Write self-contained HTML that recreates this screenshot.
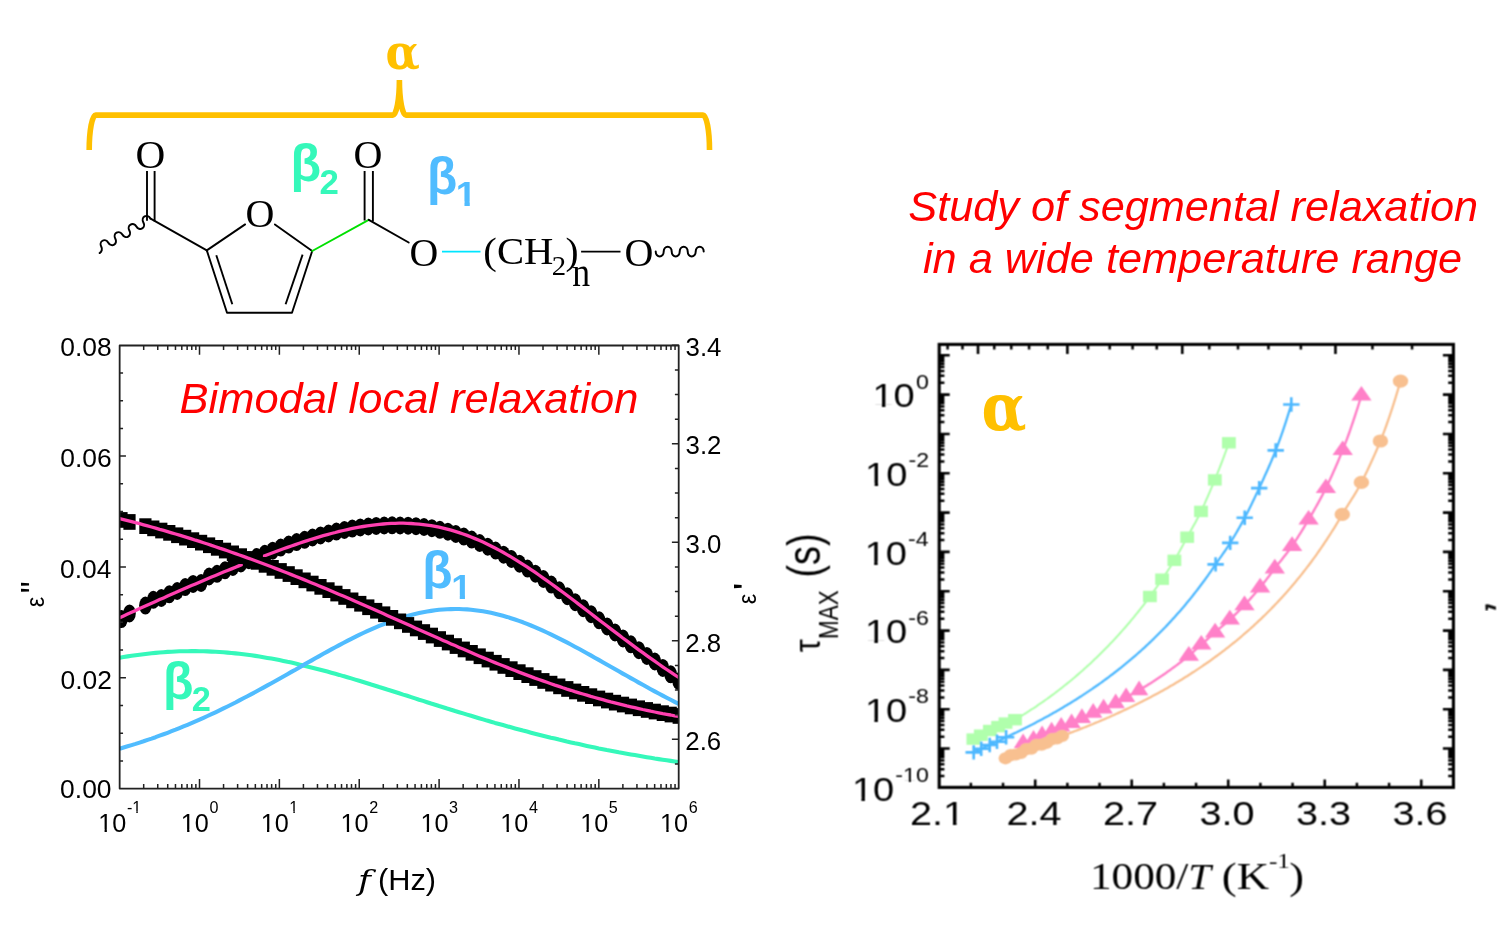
<!DOCTYPE html>
<html><head><meta charset="utf-8"><title>Figure</title>
<style>html,body{margin:0;padding:0;background:#fff}svg{display:block}</style></head>
<body><svg width="1502" height="931" viewBox="0 0 1502 931">
<rect width="1502" height="931" fill="#fff"/>
<path d="M89.2,150 A6.5,35 0 0 1 95.7,115.1 L392.9,115.1 A6.5,35 0 0 0 399.4,80 A6.5,35 0 0 0 405.9,115.1 L703,115.1 A6.5,35 0 0 1 709.5,150" fill="none" stroke="#FFC000" stroke-width="5.6" stroke-linejoin="miter"/>
<text transform="translate(385.61,69.27) scale(0.9189,1)" font-family='"DejaVu Serif", serif' font-size="48.62" font-style="normal" font-weight="bold" fill="#FFC000" >α</text>
<line x1="147" y1="171" x2="147" y2="220.7" stroke="#000" stroke-width="1.9" stroke-linecap="butt"/>
<line x1="154.6" y1="171" x2="154.6" y2="221.5" stroke="#000" stroke-width="1.9" stroke-linecap="butt"/>
<line x1="150.6" y1="218.7" x2="206.8" y2="250.4" stroke="#000" stroke-width="1.9" stroke-linecap="round"/>
<path transform="translate(150.4,218.4) rotate(150)" d="M0,0 a4.050,4.600 0 0 0 8.100,0 a4.050,4.600 0 0 1 8.100,0 a4.050,4.600 0 0 0 8.100,0 a4.050,4.600 0 0 1 8.100,0 a4.050,4.600 0 0 0 8.100,0 a4.050,4.600 0 0 1 8.100,0 a4.050,4.600 0 0 0 8.100,0 a4.6,4.6 0 0 1 4.6,-4.6" fill="none" stroke="#000" stroke-width="2" stroke-linecap="round"/>
<line x1="206.8" y1="250.4" x2="245.1" y2="224.4" stroke="#000" stroke-width="1.9" stroke-linecap="round"/>
<line x1="274.9" y1="224.4" x2="312.2" y2="251" stroke="#000" stroke-width="1.9" stroke-linecap="round"/>
<polyline points="206.8,250.4 227,312.8 292,312.8 312.2,251" fill="none" stroke="#000" stroke-width="1.9" stroke-linejoin="round" stroke-linecap="round"/>
<line x1="216.3" y1="255.3" x2="232.3" y2="304.3" stroke="#000" stroke-width="1.9" stroke-linecap="butt"/>
<line x1="285.6" y1="304.3" x2="302.6" y2="254.6" stroke="#000" stroke-width="1.9" stroke-linecap="butt"/>
<line x1="312.2" y1="251" x2="368.7" y2="219.8" stroke="#00e000" stroke-width="1.9" stroke-linecap="round"/>
<line x1="364.6" y1="171" x2="364.6" y2="220.5" stroke="#000" stroke-width="1.9" stroke-linecap="butt"/>
<line x1="372.9" y1="171" x2="372.9" y2="221.5" stroke="#000" stroke-width="1.9" stroke-linecap="butt"/>
<line x1="368.8" y1="219.8" x2="408.7" y2="242.5" stroke="#000" stroke-width="1.9" stroke-linecap="round"/>
<line x1="442" y1="251.6" x2="480.5" y2="251.6" stroke="#00e5ff" stroke-width="1.8" stroke-linecap="butt"/>
<line x1="581.1" y1="251.6" x2="620.5" y2="251.6" stroke="#000" stroke-width="1.9" stroke-linecap="butt"/>
<path d="M655.7,251.6 a4,4.8 0 0 0 8,0 a4,4.8 0 0 1 8,0 a4,4.8 0 0 0 8,0 a4,4.8 0 0 1 8,0 a4,4.8 0 0 0 8,0 a4,4.8 0 0 1 8,0" fill="none" stroke="#000" stroke-width="2" stroke-linecap="round"/>
<text transform="translate(135.45,168.19) scale(1.0124,1)" font-family='"Liberation Serif", serif' font-size="40.75" font-style="normal" font-weight="normal" fill="#000" >O</text>
<text transform="translate(245.6,227.2) scale(0.9889,1)" font-family='"Liberation Serif", serif' font-size="40.45" font-style="normal" font-weight="normal" fill="#000" >O</text>
<text transform="translate(353.6,168.19) scale(0.9817,1)" font-family='"Liberation Serif", serif' font-size="40.75" font-style="normal" font-weight="normal" fill="#000" >O</text>
<text transform="translate(409.51,265.5) scale(0.9851,1)" font-family='"Liberation Serif", serif' font-size="40.45" font-style="normal" font-weight="normal" fill="#000" >O</text>
<text transform="translate(624.6,265.5) scale(0.9889,1)" font-family='"Liberation Serif", serif' font-size="40.45" font-style="normal" font-weight="normal" fill="#000" >O</text>
<text transform="translate(483.37,264.24) scale(1.0852,1)" font-family='"Liberation Serif", serif' font-size="37.47" font-style="normal" font-weight="normal" fill="#000" >(CH</text>
<text transform="translate(551.71,275.1) scale(1.0483,1)" font-family='"Liberation Serif", serif' font-size="27.42" font-style="normal" font-weight="normal" fill="#000" >2</text>
<text transform="translate(565.42,264.24) scale(1.0469,1)" font-family='"Liberation Serif", serif' font-size="37.47" font-style="normal" font-weight="normal" fill="#000" >)</text>
<text transform="translate(572.29,286.1) scale(0.9069,1)" font-family='"Liberation Serif", serif' font-size="39.36" font-style="normal" font-weight="normal" fill="#000" >n</text>
<text transform="translate(290.49,181.45) scale(0.9698,1)" font-family='"Liberation Sans", sans-serif' font-size="51.66" font-style="normal" font-weight="bold" fill="#35f8ba" >β</text>
<text transform="translate(427.03,193.97) scale(0.9603,1)" font-family='"Liberation Sans", sans-serif' font-size="51.55" font-style="normal" font-weight="bold" fill="#50bcff" >β</text>
<text transform="translate(422.13,587.98) scale(0.9524,1)" font-family='"Liberation Sans", sans-serif' font-size="51.98" font-style="normal" font-weight="bold" fill="#50bcff" >β</text>
<text transform="translate(163.01,698.91) scale(0.9620,1)" font-family='"Liberation Sans", sans-serif' font-size="51.87" font-style="normal" font-weight="bold" fill="#35f8ba" >β</text>
<text transform="translate(319.38,193.6) scale(0.9860,1)" font-family='"Liberation Sans", sans-serif' font-size="35.29" font-style="normal" font-weight="bold" fill="#35f8ba" >2</text>
<text transform="translate(191.7,710.9) scale(0.9625,1)" font-family='"Liberation Sans", sans-serif' font-size="35.71" font-style="normal" font-weight="bold" fill="#35f8ba" >2</text>
<clipPath id="k1"><path d="M-5,-35.78 H35.78 V-4.47 H13.31 V2 H8.23 V-4.47 H-5 Z"/></clipPath>
<text transform="translate(455.86,205.9) scale(1.0457,1)" clip-path="url(#k1)" font-family='"Liberation Sans", sans-serif' font-size="35.78" font-weight="bold" fill="#50bcff">1</text>
<clipPath id="k2"><path d="M-5,-35.49 H35.49 V-4.44 H13.2 V2 H8.16 V-4.44 H-5 Z"/></clipPath>
<text transform="translate(451.3,599.4) scale(1.0356,1)" clip-path="url(#k2)" font-family='"Liberation Sans", sans-serif' font-size="35.49" font-weight="bold" fill="#50bcff">1</text>
<clipPath id="c1"><rect x="119.65" y="345.3" width="559.0500000000001" height="443.3"/></clipPath>
<g clip-path="url(#c1)">
<polyline points="119.7,657.7 123.6,657.0 127.6,656.4 131.6,655.8 135.6,655.2 139.6,654.7 143.6,654.2 147.6,653.7 151.6,653.3 155.6,652.9 159.6,652.5 163.6,652.2 167.6,651.9 171.6,651.7 175.6,651.5 179.5,651.3 183.5,651.2 187.5,651.2 191.5,651.1 195.5,651.1 199.5,651.2 203.5,651.3 207.5,651.4 211.5,651.6 215.5,651.8 219.5,652.0 223.5,652.3 227.5,652.6 231.5,653.0 235.5,653.4 239.4,653.8 243.4,654.3 247.4,654.8 251.4,655.3 255.4,655.9 259.4,656.5 263.4,657.2 267.4,657.9 271.4,658.6 275.4,659.3 279.4,660.1 283.4,660.9 287.4,661.8 291.4,662.6 295.4,663.5 299.3,664.5 303.3,665.4 307.3,666.4 311.3,667.4 315.3,668.4 319.3,669.4 323.3,670.5 327.3,671.6 331.3,672.7 335.3,673.8 339.3,674.9 343.3,676.1 347.3,677.2 351.3,678.4 355.2,679.6 359.2,680.8 363.2,682.0 367.2,683.2 371.2,684.5 375.2,685.7 379.2,687.0 383.2,688.2 387.2,689.5 391.2,690.7 395.2,692.0 399.2,693.3 403.2,694.6 407.2,695.8 411.2,697.1 415.1,698.4 419.1,699.7 423.1,700.9 427.1,702.2 431.1,703.5 435.1,704.7 439.1,706.0 443.1,707.2 447.1,708.5 451.1,709.7 455.1,711.0 459.1,712.2 463.1,713.4 467.1,714.6 471.1,715.8 475.0,717.0 479.0,718.2 483.0,719.4 487.0,720.6 491.0,721.7 495.0,722.9 499.0,724.0 503.0,725.1 507.0,726.2 511.0,727.3 515.0,728.4 519.0,729.5 523.0,730.6 527.0,731.6 531.0,732.7 534.9,733.7 538.9,734.7 542.9,735.7 546.9,736.7 550.9,737.7 554.9,738.6 558.9,739.6 562.9,740.5 566.9,741.5 570.9,742.4 574.9,743.3 578.9,744.1 582.9,745.0 586.9,745.9 590.8,746.7 594.8,747.5 598.8,748.4 602.8,749.2 606.8,750.0 610.8,750.7 614.8,751.5 618.8,752.3 622.8,753.0 626.8,753.7 630.8,754.4 634.8,755.1 638.8,755.8 642.8,756.5 646.8,757.2 650.7,757.8 654.7,758.5 658.7,759.1 662.7,759.7 666.7,760.3 670.7,760.9 674.7,761.5 678.7,762.1" fill="none" stroke="#35f8ba" stroke-width="4.1" stroke-linejoin="round" />
<polyline points="119.7,748.7 123.6,747.5 127.6,746.3 131.6,745.1 135.6,743.9 139.6,742.6 143.6,741.3 147.6,739.9 151.6,738.6 155.6,737.2 159.6,735.7 163.6,734.3 167.6,732.8 171.6,731.2 175.6,729.7 179.5,728.1 183.5,726.4 187.5,724.8 191.5,723.1 195.5,721.4 199.5,719.6 203.5,717.8 207.5,716.0 211.5,714.2 215.5,712.3 219.5,710.4 223.5,708.4 227.5,706.5 231.5,704.5 235.5,702.5 239.4,700.4 243.4,698.3 247.4,696.2 251.4,694.1 255.4,692.0 259.4,689.8 263.4,687.6 267.4,685.4 271.4,683.2 275.4,681.0 279.4,678.7 283.4,676.5 287.4,674.2 291.4,671.9 295.4,669.7 299.3,667.4 303.3,665.1 307.3,662.8 311.3,660.6 315.3,658.3 319.3,656.1 323.3,653.8 327.3,651.6 331.3,649.4 335.3,647.3 339.3,645.1 343.3,643.0 347.3,640.9 351.3,638.9 355.2,636.9 359.2,634.9 363.2,633.0 367.2,631.2 371.2,629.4 375.2,627.6 379.2,625.9 383.2,624.3 387.2,622.8 391.2,621.3 395.2,619.9 399.2,618.5 403.2,617.3 407.2,616.1 411.2,615.0 415.1,614.0 419.1,613.1 423.1,612.2 427.1,611.5 431.1,610.9 435.1,610.3 439.1,609.8 443.1,609.5 447.1,609.2 451.1,609.1 455.1,609.0 459.1,609.0 463.1,609.2 467.1,609.4 471.1,609.7 475.0,610.2 479.0,610.7 483.0,611.3 487.0,612.0 491.0,612.8 495.0,613.7 499.0,614.7 503.0,615.8 507.0,616.9 511.0,618.2 515.0,619.5 519.0,620.9 523.0,622.3 527.0,623.9 531.0,625.5 534.9,627.1 538.9,628.9 542.9,630.7 546.9,632.5 550.9,634.4 554.9,636.3 558.9,638.3 562.9,640.4 566.9,642.4 570.9,644.5 574.9,646.7 578.9,648.8 582.9,651.0 586.9,653.2 590.8,655.4 594.8,657.7 598.8,659.9 602.8,662.2 606.8,664.5 610.8,666.7 614.8,669.0 618.8,671.3 622.8,673.6 626.8,675.8 630.8,678.1 634.8,680.3 638.8,682.6 642.8,684.8 646.8,687.0 650.7,689.2 654.7,691.4 658.7,693.5 662.7,695.6 666.7,697.7 670.7,699.8 674.7,701.9 678.7,703.9" fill="none" stroke="#50bcff" stroke-width="4.1" stroke-linejoin="round" />
<ellipse cx="121.5" cy="619.1" rx="6.3" ry="9.0" fill="#000"/>
<ellipse cx="129.5" cy="613.4" rx="6.3" ry="9.0" fill="#000"/>
<ellipse cx="145.4" cy="605.6" rx="6.3" ry="9.0" fill="#000"/>
<ellipse cx="153.3" cy="599.8" rx="6.3" ry="9.0" fill="#000"/>
<ellipse cx="161.3" cy="598.0" rx="6.3" ry="9.0" fill="#000"/>
<ellipse cx="169.3" cy="594.3" rx="6.3" ry="9.0" fill="#000"/>
<ellipse cx="177.2" cy="591.0" rx="6.3" ry="9.0" fill="#000"/>
<ellipse cx="185.2" cy="587.1" rx="6.3" ry="9.0" fill="#000"/>
<ellipse cx="193.1" cy="583.9" rx="6.3" ry="9.0" fill="#000"/>
<ellipse cx="201.1" cy="583.0" rx="6.3" ry="9.0" fill="#000"/>
<ellipse cx="209.1" cy="576.5" rx="6.3" ry="9.0" fill="#000"/>
<ellipse cx="217.0" cy="573.8" rx="6.3" ry="9.0" fill="#000"/>
<ellipse cx="225.0" cy="570.3" rx="6.3" ry="9.0" fill="#000"/>
<ellipse cx="232.9" cy="566.9" rx="6.3" ry="9.0" fill="#000"/>
<ellipse cx="240.9" cy="563.5" rx="6.3" ry="9.0" fill="#000"/>
<ellipse cx="248.9" cy="560.2" rx="6.3" ry="9.0" fill="#000"/>
<ellipse cx="256.8" cy="557.0" rx="6.3" ry="9.0" fill="#000"/>
<ellipse cx="264.8" cy="553.8" rx="6.3" ry="9.0" fill="#000"/>
<ellipse cx="272.7" cy="550.7" rx="6.3" ry="9.0" fill="#000"/>
<ellipse cx="280.7" cy="547.6" rx="6.3" ry="9.0" fill="#000"/>
<ellipse cx="288.7" cy="544.6" rx="6.3" ry="9.0" fill="#000"/>
<ellipse cx="296.6" cy="542.1" rx="6.3" ry="9.0" fill="#000"/>
<ellipse cx="304.6" cy="539.8" rx="6.3" ry="9.0" fill="#000"/>
<ellipse cx="312.5" cy="537.5" rx="6.3" ry="9.0" fill="#000"/>
<ellipse cx="320.5" cy="535.4" rx="6.3" ry="9.0" fill="#000"/>
<ellipse cx="328.5" cy="533.5" rx="6.3" ry="9.0" fill="#000"/>
<ellipse cx="336.4" cy="531.6" rx="6.3" ry="9.0" fill="#000"/>
<ellipse cx="344.4" cy="530.0" rx="6.3" ry="9.0" fill="#000"/>
<ellipse cx="352.3" cy="528.6" rx="6.3" ry="9.0" fill="#000"/>
<ellipse cx="360.3" cy="527.4" rx="6.3" ry="9.0" fill="#000"/>
<ellipse cx="368.3" cy="526.5" rx="6.3" ry="9.0" fill="#000"/>
<ellipse cx="376.2" cy="525.9" rx="6.3" ry="9.0" fill="#000"/>
<ellipse cx="384.2" cy="525.5" rx="6.3" ry="9.0" fill="#000"/>
<ellipse cx="392.1" cy="525.3" rx="6.3" ry="9.0" fill="#000"/>
<ellipse cx="400.1" cy="525.5" rx="6.3" ry="9.0" fill="#000"/>
<ellipse cx="408.1" cy="525.7" rx="6.3" ry="9.0" fill="#000"/>
<ellipse cx="416.0" cy="526.2" rx="6.3" ry="9.0" fill="#000"/>
<ellipse cx="424.0" cy="527.0" rx="6.3" ry="9.0" fill="#000"/>
<ellipse cx="431.9" cy="528.2" rx="6.3" ry="9.0" fill="#000"/>
<ellipse cx="439.9" cy="529.8" rx="6.3" ry="9.0" fill="#000"/>
<ellipse cx="447.9" cy="531.7" rx="6.3" ry="9.0" fill="#000"/>
<ellipse cx="455.8" cy="534.0" rx="6.3" ry="9.0" fill="#000"/>
<ellipse cx="463.8" cy="536.6" rx="6.3" ry="9.0" fill="#000"/>
<ellipse cx="471.7" cy="539.6" rx="6.3" ry="9.0" fill="#000"/>
<ellipse cx="479.7" cy="543.0" rx="6.3" ry="9.0" fill="#000"/>
<ellipse cx="487.7" cy="546.7" rx="6.3" ry="9.0" fill="#000"/>
<ellipse cx="495.6" cy="550.6" rx="6.3" ry="9.0" fill="#000"/>
<ellipse cx="503.6" cy="554.7" rx="6.3" ry="9.0" fill="#000"/>
<ellipse cx="511.5" cy="559.0" rx="6.3" ry="9.0" fill="#000"/>
<ellipse cx="519.5" cy="563.7" rx="6.3" ry="9.0" fill="#000"/>
<ellipse cx="527.5" cy="568.6" rx="6.3" ry="9.0" fill="#000"/>
<ellipse cx="535.4" cy="573.7" rx="6.3" ry="9.0" fill="#000"/>
<ellipse cx="543.4" cy="579.0" rx="6.3" ry="9.0" fill="#000"/>
<ellipse cx="551.3" cy="584.6" rx="6.3" ry="9.0" fill="#000"/>
<ellipse cx="559.3" cy="590.3" rx="6.3" ry="9.0" fill="#000"/>
<ellipse cx="567.3" cy="596.2" rx="6.3" ry="9.0" fill="#000"/>
<ellipse cx="575.2" cy="602.2" rx="6.3" ry="9.0" fill="#000"/>
<ellipse cx="583.2" cy="608.2" rx="6.3" ry="9.0" fill="#000"/>
<ellipse cx="591.1" cy="614.2" rx="6.3" ry="9.0" fill="#000"/>
<ellipse cx="599.1" cy="620.3" rx="6.3" ry="9.0" fill="#000"/>
<ellipse cx="607.1" cy="626.4" rx="6.3" ry="9.0" fill="#000"/>
<ellipse cx="615.0" cy="632.4" rx="6.3" ry="9.0" fill="#000"/>
<ellipse cx="623.0" cy="638.4" rx="6.3" ry="9.0" fill="#000"/>
<ellipse cx="630.9" cy="644.3" rx="6.3" ry="9.0" fill="#000"/>
<ellipse cx="638.9" cy="650.2" rx="6.3" ry="9.0" fill="#000"/>
<ellipse cx="646.9" cy="655.9" rx="6.3" ry="9.0" fill="#000"/>
<ellipse cx="654.8" cy="661.5" rx="6.3" ry="9.0" fill="#000"/>
<ellipse cx="662.8" cy="667.9" rx="6.3" ry="9.0" fill="#000"/>
<ellipse cx="670.7" cy="674.3" rx="6.3" ry="9.0" fill="#000"/>
<ellipse cx="678.7" cy="681.2" rx="6.3" ry="9.0" fill="#000"/>
<polyline points="119.7,617.8 123.6,615.9 127.6,614.1 131.6,612.3 135.6,610.4 139.6,608.6 143.6,606.8 147.6,605.0 151.6,603.2 155.6,601.4 159.6,599.6 163.6,597.9 167.6,596.1 171.6,594.3 175.6,592.6 179.5,590.8 183.5,589.1 187.5,587.3 191.5,585.6 195.5,583.9 199.5,582.2 203.5,580.5 207.5,578.8 211.5,577.1 215.5,575.5 219.5,573.8 223.5,572.1 227.5,570.5 231.5,568.9 235.5,567.2 239.4,565.6 243.4,564.0 247.4,562.4 251.4,560.9 255.4,559.3 259.4,557.7 263.4,556.2 267.4,554.7 271.4,553.2 275.4,551.7 279.4,550.2 283.4,548.8 287.4,547.4 291.4,546.0 295.4,544.6 299.3,543.2 303.3,541.9 307.3,540.6 311.3,539.3 315.3,538.1 319.3,536.9 323.3,535.7 327.3,534.6 331.3,533.5 335.3,532.5 339.3,531.4 343.3,530.5 347.3,529.6 351.3,528.7 355.2,527.9 359.2,527.2 363.2,526.5 367.2,525.8 371.2,525.3 375.2,524.8 379.2,524.3 383.2,524.0 387.2,523.7 391.2,523.4 395.2,523.3 399.2,523.2 403.2,523.2 407.2,523.3 411.2,523.5 415.1,523.8 419.1,524.1 423.1,524.6 427.1,525.1 431.1,525.7 435.1,526.4 439.1,527.2 443.1,528.1 447.1,529.1 451.1,530.2 455.1,531.4 459.1,532.6 463.1,534.0 467.1,535.4 471.1,537.0 475.0,538.6 479.0,540.3 483.0,542.1 487.0,544.0 491.0,546.0 495.0,548.0 499.0,550.1 503.0,552.3 507.0,554.6 511.0,556.9 515.0,559.3 519.0,561.8 523.0,564.3 527.0,566.9 531.0,569.6 534.9,572.2 538.9,575.0 542.9,577.8 546.9,580.6 550.9,583.5 554.9,586.4 558.9,589.3 562.9,592.3 566.9,595.3 570.9,598.3 574.9,601.3 578.9,604.4 582.9,607.4 586.9,610.5 590.8,613.5 594.8,616.6 598.8,619.7 602.8,622.8 606.8,625.8 610.8,628.9 614.8,631.9 618.8,634.9 622.8,638.0 626.8,640.9 630.8,643.9 634.8,646.9 638.8,649.8 642.8,652.7 646.8,655.6 650.7,658.4 654.7,661.2 658.7,664.0 662.7,666.8 666.7,669.5 670.7,672.2 674.7,674.8 678.7,677.4" fill="none" stroke="#ff40b0" stroke-width="3.3" stroke-linejoin="round" />
<rect x="115.4" y="512.1" width="12.2" height="15.7" fill="#000"/>
<rect x="123.4" y="514.1" width="12.2" height="15.7" fill="#000"/>
<rect x="139.3" y="518.3" width="12.2" height="15.7" fill="#000"/>
<rect x="147.2" y="520.5" width="12.2" height="15.7" fill="#000"/>
<rect x="155.2" y="522.7" width="12.2" height="15.7" fill="#000"/>
<rect x="163.2" y="525.0" width="12.2" height="15.7" fill="#000"/>
<rect x="171.1" y="527.4" width="12.2" height="15.7" fill="#000"/>
<rect x="179.1" y="529.8" width="12.2" height="15.7" fill="#000"/>
<rect x="187.0" y="532.3" width="12.2" height="15.7" fill="#000"/>
<rect x="195.0" y="534.8" width="12.2" height="15.7" fill="#000"/>
<rect x="203.0" y="537.4" width="12.2" height="15.7" fill="#000"/>
<rect x="210.9" y="540.0" width="12.2" height="15.7" fill="#000"/>
<rect x="218.9" y="542.7" width="12.2" height="15.7" fill="#000"/>
<rect x="226.8" y="545.5" width="12.2" height="15.7" fill="#000"/>
<rect x="234.8" y="548.3" width="12.2" height="15.7" fill="#000"/>
<rect x="242.8" y="551.1" width="12.2" height="15.7" fill="#000"/>
<rect x="250.7" y="554.0" width="12.2" height="15.7" fill="#000"/>
<rect x="258.7" y="557.0" width="12.2" height="15.7" fill="#000"/>
<rect x="266.6" y="560.0" width="12.2" height="15.7" fill="#000"/>
<rect x="274.6" y="563.1" width="12.2" height="15.7" fill="#000"/>
<rect x="282.6" y="566.2" width="12.2" height="15.7" fill="#000"/>
<rect x="290.5" y="569.3" width="12.2" height="15.7" fill="#000"/>
<rect x="298.5" y="572.5" width="12.2" height="15.7" fill="#000"/>
<rect x="306.4" y="575.7" width="12.2" height="15.7" fill="#000"/>
<rect x="314.4" y="579.0" width="12.2" height="15.7" fill="#000"/>
<rect x="322.4" y="582.3" width="12.2" height="15.7" fill="#000"/>
<rect x="330.3" y="585.7" width="12.2" height="15.7" fill="#000"/>
<rect x="338.3" y="589.1" width="12.2" height="15.7" fill="#000"/>
<rect x="346.2" y="592.5" width="12.2" height="15.7" fill="#000"/>
<rect x="354.2" y="595.9" width="12.2" height="15.7" fill="#000"/>
<rect x="362.2" y="599.4" width="12.2" height="15.7" fill="#000"/>
<rect x="370.1" y="602.9" width="12.2" height="15.7" fill="#000"/>
<rect x="378.1" y="606.4" width="12.2" height="15.7" fill="#000"/>
<rect x="386.0" y="610.0" width="12.2" height="15.7" fill="#000"/>
<rect x="394.0" y="613.5" width="12.2" height="15.7" fill="#000"/>
<rect x="402.0" y="617.1" width="12.2" height="15.7" fill="#000"/>
<rect x="409.9" y="620.6" width="12.2" height="15.7" fill="#000"/>
<rect x="417.9" y="624.2" width="12.2" height="15.7" fill="#000"/>
<rect x="425.8" y="627.7" width="12.2" height="15.7" fill="#000"/>
<rect x="433.8" y="631.2" width="12.2" height="15.7" fill="#000"/>
<rect x="441.8" y="634.7" width="12.2" height="15.7" fill="#000"/>
<rect x="449.7" y="638.2" width="12.2" height="15.7" fill="#000"/>
<rect x="457.7" y="641.6" width="12.2" height="15.7" fill="#000"/>
<rect x="465.6" y="645.0" width="12.2" height="15.7" fill="#000"/>
<rect x="473.6" y="648.4" width="12.2" height="15.7" fill="#000"/>
<rect x="481.6" y="651.7" width="12.2" height="15.7" fill="#000"/>
<rect x="489.5" y="654.9" width="12.2" height="15.7" fill="#000"/>
<rect x="497.5" y="658.1" width="12.2" height="15.7" fill="#000"/>
<rect x="505.4" y="661.3" width="12.2" height="15.7" fill="#000"/>
<rect x="513.4" y="664.3" width="12.2" height="15.7" fill="#000"/>
<rect x="521.4" y="667.3" width="12.2" height="15.7" fill="#000"/>
<rect x="529.3" y="670.2" width="12.2" height="15.7" fill="#000"/>
<rect x="537.3" y="673.1" width="12.2" height="15.7" fill="#000"/>
<rect x="545.2" y="675.8" width="12.2" height="15.7" fill="#000"/>
<rect x="553.2" y="678.5" width="12.2" height="15.7" fill="#000"/>
<rect x="561.2" y="681.1" width="12.2" height="15.7" fill="#000"/>
<rect x="569.1" y="683.6" width="12.2" height="15.7" fill="#000"/>
<rect x="577.1" y="686.0" width="12.2" height="15.7" fill="#000"/>
<rect x="585.0" y="688.3" width="12.2" height="15.7" fill="#000"/>
<rect x="593.0" y="690.6" width="12.2" height="15.7" fill="#000"/>
<rect x="601.0" y="692.7" width="12.2" height="15.7" fill="#000"/>
<rect x="608.9" y="694.8" width="12.2" height="15.7" fill="#000"/>
<rect x="616.9" y="696.7" width="12.2" height="15.7" fill="#000"/>
<rect x="624.8" y="698.6" width="12.2" height="15.7" fill="#000"/>
<rect x="632.8" y="700.4" width="12.2" height="15.7" fill="#000"/>
<rect x="640.8" y="702.1" width="12.2" height="15.7" fill="#000"/>
<rect x="648.7" y="703.7" width="12.2" height="15.7" fill="#000"/>
<rect x="656.7" y="705.3" width="12.2" height="15.7" fill="#000"/>
<rect x="664.6" y="706.7" width="12.2" height="15.7" fill="#000"/>
<rect x="672.6" y="708.1" width="12.2" height="15.7" fill="#000"/>
<polyline points="119.7,518.6 123.6,519.6 127.6,520.6 131.6,521.6 135.6,522.7 139.6,523.7 143.6,524.8 147.6,525.9 151.6,527.0 155.6,528.1 159.6,529.3 163.6,530.4 167.6,531.6 171.6,532.8 175.6,534.0 179.5,535.2 183.5,536.4 187.5,537.6 191.5,538.9 195.5,540.2 199.5,541.4 203.5,542.7 207.5,544.0 211.5,545.4 215.5,546.7 219.5,548.1 223.5,549.4 227.5,550.8 231.5,552.2 235.5,553.6 239.4,555.0 243.4,556.4 247.4,557.9 251.4,559.3 255.4,560.8 259.4,562.3 263.4,563.8 267.4,565.3 271.4,566.8 275.4,568.4 279.4,569.9 283.4,571.5 287.4,573.0 291.4,574.6 295.4,576.2 299.3,577.8 303.3,579.4 307.3,581.0 311.3,582.7 315.3,584.3 319.3,586.0 323.3,587.6 327.3,589.3 331.3,591.0 335.3,592.7 339.3,594.4 343.3,596.1 347.3,597.8 351.3,599.5 355.2,601.3 359.2,603.0 363.2,604.8 367.2,606.5 371.2,608.3 375.2,610.1 379.2,611.8 383.2,613.6 387.2,615.4 391.2,617.2 395.2,619.0 399.2,620.7 403.2,622.5 407.2,624.3 411.2,626.1 415.1,627.9 419.1,629.7 423.1,631.5 427.1,633.3 431.1,635.1 435.1,636.8 439.1,638.6 443.1,640.4 447.1,642.1 451.1,643.9 455.1,645.6 459.1,647.4 463.1,649.1 467.1,650.8 471.1,652.6 475.0,654.3 479.0,656.0 483.0,657.6 487.0,659.3 491.0,661.0 495.0,662.6 499.0,664.2 503.0,665.8 507.0,667.4 511.0,669.0 515.0,670.5 519.0,672.1 523.0,673.6 527.0,675.1 531.0,676.6 534.9,678.1 538.9,679.5 542.9,680.9 546.9,682.3 550.9,683.7 554.9,685.1 558.9,686.4 562.9,687.8 566.9,689.1 570.9,690.3 574.9,691.6 578.9,692.8 582.9,694.0 586.9,695.2 590.8,696.4 594.8,697.5 598.8,698.6 602.8,699.7 606.8,700.8 610.8,701.9 614.8,702.9 618.8,703.9 622.8,704.9 626.8,705.9 630.8,706.8 634.8,707.7 638.8,708.6 642.8,709.5 646.8,710.3 650.7,711.2 654.7,712.0 658.7,712.8 662.7,713.6 666.7,714.3 670.7,715.0 674.7,715.8 678.7,716.4" fill="none" stroke="#ff40b0" stroke-width="3.3" stroke-linejoin="round" />
</g>
<rect x="119.65" y="345.5" width="559.05" height="443.1" fill="none" stroke="#222" stroke-width="1.8" stroke-linejoin="round"/>
<path d="M143.69,788.60v-4.6 M143.69,345.30v4.6 M157.75,788.60v-4.6 M157.75,345.30v4.6 M167.73,788.60v-4.6 M167.73,345.30v4.6 M175.47,788.60v-4.6 M175.47,345.30v4.6 M181.80,788.60v-4.6 M181.80,345.30v4.6 M187.14,788.60v-4.6 M187.14,345.30v4.6 M191.77,788.60v-4.6 M191.77,345.30v4.6 M195.86,788.60v-4.6 M195.86,345.30v4.6 M199.51,788.60v-9.5 M199.51,345.30v9.5 M223.56,788.60v-4.6 M223.56,345.30v4.6 M237.62,788.60v-4.6 M237.62,345.30v4.6 M247.60,788.60v-4.6 M247.60,345.30v4.6 M255.34,788.60v-4.6 M255.34,345.30v4.6 M261.66,788.60v-4.6 M261.66,345.30v4.6 M267.01,788.60v-4.6 M267.01,345.30v4.6 M271.64,788.60v-4.6 M271.64,345.30v4.6 M275.72,788.60v-4.6 M275.72,345.30v4.6 M279.38,788.60v-9.5 M279.38,345.30v9.5 M303.42,788.60v-4.6 M303.42,345.30v4.6 M317.48,788.60v-4.6 M317.48,345.30v4.6 M327.46,788.60v-4.6 M327.46,345.30v4.6 M335.20,788.60v-4.6 M335.20,345.30v4.6 M341.53,788.60v-4.6 M341.53,345.30v4.6 M346.87,788.60v-4.6 M346.87,345.30v4.6 M351.50,788.60v-4.6 M351.50,345.30v4.6 M355.59,788.60v-4.6 M355.59,345.30v4.6 M359.24,788.60v-9.5 M359.24,345.30v9.5 M383.28,788.60v-4.6 M383.28,345.30v4.6 M397.35,788.60v-4.6 M397.35,345.30v4.6 M407.33,788.60v-4.6 M407.33,345.30v4.6 M415.07,788.60v-4.6 M415.07,345.30v4.6 M421.39,788.60v-4.6 M421.39,345.30v4.6 M426.74,788.60v-4.6 M426.74,345.30v4.6 M431.37,788.60v-4.6 M431.37,345.30v4.6 M435.45,788.60v-4.6 M435.45,345.30v4.6 M439.11,788.60v-9.5 M439.11,345.30v9.5 M463.15,788.60v-4.6 M463.15,345.30v4.6 M477.21,788.60v-4.6 M477.21,345.30v4.6 M487.19,788.60v-4.6 M487.19,345.30v4.6 M494.93,788.60v-4.6 M494.93,345.30v4.6 M501.25,788.60v-4.6 M501.25,345.30v4.6 M506.60,788.60v-4.6 M506.60,345.30v4.6 M511.23,788.60v-4.6 M511.23,345.30v4.6 M515.32,788.60v-4.6 M515.32,345.30v4.6 M518.97,788.60v-9.5 M518.97,345.30v9.5 M543.01,788.60v-4.6 M543.01,345.30v4.6 M557.08,788.60v-4.6 M557.08,345.30v4.6 M567.05,788.60v-4.6 M567.05,345.30v4.6 M574.79,788.60v-4.6 M574.79,345.30v4.6 M581.12,788.60v-4.6 M581.12,345.30v4.6 M586.46,788.60v-4.6 M586.46,345.30v4.6 M591.10,788.60v-4.6 M591.10,345.30v4.6 M595.18,788.60v-4.6 M595.18,345.30v4.6 M598.84,788.60v-9.5 M598.84,345.30v9.5 M622.88,788.60v-4.6 M622.88,345.30v4.6 M636.94,788.60v-4.6 M636.94,345.30v4.6 M646.92,788.60v-4.6 M646.92,345.30v4.6 M654.66,788.60v-4.6 M654.66,345.30v4.6 M660.98,788.60v-4.6 M660.98,345.30v4.6 M666.33,788.60v-4.6 M666.33,345.30v4.6 M670.96,788.60v-4.6 M670.96,345.30v4.6 M675.05,788.60v-4.6 M675.05,345.30v4.6 M119.65,760.89h3.4 M119.65,733.19h3.4 M119.65,705.48h3.4 M119.65,677.77h6.3 M119.65,650.07h3.4 M119.65,622.36h3.4 M119.65,594.66h3.4 M119.65,566.95h6.3 M119.65,539.24h3.4 M119.65,511.54h3.4 M119.65,483.83h3.4 M119.65,456.12h6.3 M119.65,428.42h3.4 M119.65,400.71h3.4 M119.65,373.01h3.4 M678.70,763.97h-3.8 M678.70,739.34h-6.8 M678.70,714.72h-3.8 M678.70,690.09h-3.8 M678.70,665.46h-3.8 M678.70,640.83h-6.8 M678.70,616.21h-3.8 M678.70,591.58h-3.8 M678.70,566.95h-3.8 M678.70,542.32h-6.8 M678.70,517.69h-3.8 M678.70,493.07h-3.8 M678.70,468.44h-3.8 M678.70,443.81h-6.8 M678.70,419.18h-3.8 M678.70,394.56h-3.8 M678.70,369.93h-3.8 M678.70,345.30h-6.8" stroke="#222" stroke-width="1.5" fill="none"/>
<text transform="translate(60.11,797.98) scale(1.0427,1)" text-anchor="start" font-family='"Liberation Sans", sans-serif' font-size="25.35" font-style="normal" font-weight="normal" fill="#000"  >0.00</text>
<text transform="translate(60.51,688.65) scale(1.0427,1)" text-anchor="start" font-family='"Liberation Sans", sans-serif' font-size="25.35" font-style="normal" font-weight="normal" fill="#000"  >0.02</text>
<text transform="translate(59.98,577.83) scale(1.0427,1)" text-anchor="start" font-family='"Liberation Sans", sans-serif' font-size="25.35" font-style="normal" font-weight="normal" fill="#000"  >0.04</text>
<text transform="translate(60.24,467) scale(1.0427,1)" text-anchor="start" font-family='"Liberation Sans", sans-serif' font-size="25.35" font-style="normal" font-weight="normal" fill="#000"  >0.06</text>
<text transform="translate(60.24,356.18) scale(1.0427,1)" text-anchor="start" font-family='"Liberation Sans", sans-serif' font-size="25.35" font-style="normal" font-weight="normal" fill="#000"  >0.08</text>
<text transform="translate(685.31,750.02) scale(0.9968,1)" text-anchor="start" font-family='"Liberation Sans", sans-serif' font-size="25.92" font-style="normal" font-weight="normal" fill="#000"  >2.6</text>
<text transform="translate(685.31,651.51) scale(0.9968,1)" text-anchor="start" font-family='"Liberation Sans", sans-serif' font-size="25.92" font-style="normal" font-weight="normal" fill="#000"  >2.8</text>
<text transform="translate(685.57,553) scale(0.9968,1)" text-anchor="start" font-family='"Liberation Sans", sans-serif' font-size="25.92" font-style="normal" font-weight="normal" fill="#000"  >3.0</text>
<text transform="translate(685.57,454.49) scale(0.9968,1)" text-anchor="start" font-family='"Liberation Sans", sans-serif' font-size="25.92" font-style="normal" font-weight="normal" fill="#000"  >3.2</text>
<text transform="translate(685.57,355.98) scale(0.9968,1)" text-anchor="start" font-family='"Liberation Sans", sans-serif' font-size="25.92" font-style="normal" font-weight="normal" fill="#000"  >3.4</text>
<clipPath id="q1"><path clip-rule="evenodd" d="M-25.35,-38.03H53.55V25.35H-25.35ZM0.76,-2.41H6.35V0.76H0.76ZM8.66,-2.41H13.82V0.76H8.66Z"/></clipPath>
<text transform="translate(98.26,831.9) scale(0.9940,1)" text-anchor="start" font-family='"Liberation Sans", sans-serif' font-size="25.35" font-style="normal" font-weight="normal" fill="#000"  clip-path="url(#q1)">10</text>
<clipPath id="q2"><path clip-rule="evenodd" d="M-16.23,-24.34H30.65V16.23H-16.23ZM5.89,-1.54H9.47V0.49H5.89ZM10.94,-1.54H14.25V0.49H10.94Z"/></clipPath>
<text transform="translate(126.89,812.6) scale(0.9940,1)" text-anchor="start" font-family='"Liberation Sans", sans-serif' font-size="16.23" font-style="normal" font-weight="normal" fill="#000"  clip-path="url(#q2)">-1</text>
<clipPath id="q3"><path clip-rule="evenodd" d="M-25.35,-38.03H53.55V25.35H-25.35ZM0.76,-2.41H6.35V0.76H0.76ZM8.66,-2.41H13.82V0.76H8.66Z"/></clipPath>
<text transform="translate(180.81,831.9) scale(0.9940,1)" text-anchor="start" font-family='"Liberation Sans", sans-serif' font-size="25.35" font-style="normal" font-weight="normal" fill="#000"  clip-path="url(#q3)">10</text>
<text transform="translate(209.44,812.6) scale(0.9940,1)" text-anchor="start" font-family='"Liberation Sans", sans-serif' font-size="16.23" font-style="normal" font-weight="normal" fill="#000"  >0</text>
<clipPath id="q4"><path clip-rule="evenodd" d="M-25.35,-38.03H53.55V25.35H-25.35ZM0.76,-2.41H6.35V0.76H0.76ZM8.66,-2.41H13.82V0.76H8.66Z"/></clipPath>
<text transform="translate(260.68,831.9) scale(0.9940,1)" text-anchor="start" font-family='"Liberation Sans", sans-serif' font-size="25.35" font-style="normal" font-weight="normal" fill="#000"  clip-path="url(#q4)">10</text>
<clipPath id="q5"><path clip-rule="evenodd" d="M-16.23,-24.34H25.25V16.23H-16.23ZM0.49,-1.54H4.06V0.49H0.49ZM5.54,-1.54H8.84V0.49H5.54Z"/></clipPath>
<text transform="translate(289.31,812.6) scale(0.9940,1)" text-anchor="start" font-family='"Liberation Sans", sans-serif' font-size="16.23" font-style="normal" font-weight="normal" fill="#000"  clip-path="url(#q5)">1</text>
<clipPath id="q6"><path clip-rule="evenodd" d="M-25.35,-38.03H53.55V25.35H-25.35ZM0.76,-2.41H6.35V0.76H0.76ZM8.66,-2.41H13.82V0.76H8.66Z"/></clipPath>
<text transform="translate(340.54,831.9) scale(0.9940,1)" text-anchor="start" font-family='"Liberation Sans", sans-serif' font-size="25.35" font-style="normal" font-weight="normal" fill="#000"  clip-path="url(#q6)">10</text>
<text transform="translate(369.17,812.6) scale(0.9940,1)" text-anchor="start" font-family='"Liberation Sans", sans-serif' font-size="16.23" font-style="normal" font-weight="normal" fill="#000"  >2</text>
<clipPath id="q7"><path clip-rule="evenodd" d="M-25.35,-38.03H53.55V25.35H-25.35ZM0.76,-2.41H6.35V0.76H0.76ZM8.66,-2.41H13.82V0.76H8.66Z"/></clipPath>
<text transform="translate(420.41,831.9) scale(0.9940,1)" text-anchor="start" font-family='"Liberation Sans", sans-serif' font-size="25.35" font-style="normal" font-weight="normal" fill="#000"  clip-path="url(#q7)">10</text>
<text transform="translate(449.04,812.6) scale(0.9940,1)" text-anchor="start" font-family='"Liberation Sans", sans-serif' font-size="16.23" font-style="normal" font-weight="normal" fill="#000"  >3</text>
<clipPath id="q8"><path clip-rule="evenodd" d="M-25.35,-38.03H53.55V25.35H-25.35ZM0.76,-2.41H6.35V0.76H0.76ZM8.66,-2.41H13.82V0.76H8.66Z"/></clipPath>
<text transform="translate(500.27,831.9) scale(0.9940,1)" text-anchor="start" font-family='"Liberation Sans", sans-serif' font-size="25.35" font-style="normal" font-weight="normal" fill="#000"  clip-path="url(#q8)">10</text>
<text transform="translate(528.9,812.6) scale(0.9940,1)" text-anchor="start" font-family='"Liberation Sans", sans-serif' font-size="16.23" font-style="normal" font-weight="normal" fill="#000"  >4</text>
<clipPath id="q9"><path clip-rule="evenodd" d="M-25.35,-38.03H53.55V25.35H-25.35ZM0.76,-2.41H6.35V0.76H0.76ZM8.66,-2.41H13.82V0.76H8.66Z"/></clipPath>
<text transform="translate(580.14,831.9) scale(0.9940,1)" text-anchor="start" font-family='"Liberation Sans", sans-serif' font-size="25.35" font-style="normal" font-weight="normal" fill="#000"  clip-path="url(#q9)">10</text>
<text transform="translate(608.77,812.6) scale(0.9940,1)" text-anchor="start" font-family='"Liberation Sans", sans-serif' font-size="16.23" font-style="normal" font-weight="normal" fill="#000"  >5</text>
<clipPath id="q10"><path clip-rule="evenodd" d="M-25.35,-38.03H53.55V25.35H-25.35ZM0.76,-2.41H6.35V0.76H0.76ZM8.66,-2.41H13.82V0.76H8.66Z"/></clipPath>
<text transform="translate(660,831.9) scale(0.9940,1)" text-anchor="start" font-family='"Liberation Sans", sans-serif' font-size="25.35" font-style="normal" font-weight="normal" fill="#000"  clip-path="url(#q10)">10</text>
<text transform="translate(688.63,812.6) scale(0.9940,1)" text-anchor="start" font-family='"Liberation Sans", sans-serif' font-size="16.23" font-style="normal" font-weight="normal" fill="#000"  >6</text>
<text transform="translate(179.6,412.8) scale(1.0080,1)" text-anchor="start" font-family='"Liberation Sans", sans-serif' font-size="43.1" font-style="italic" font-weight="normal" fill="#ff0000"  >Bimodal local relaxation</text>
<text transform="translate(908.3,220.5) scale(0.9994,1)" text-anchor="start" font-family='"Liberation Sans", sans-serif' font-size="43.3" font-style="italic" font-weight="normal" fill="#ff0000"  >Study of segmental relaxation</text>
<text transform="translate(922.95,272.6) scale(1.0005,1)" text-anchor="start" font-family='"Liberation Sans", sans-serif' font-size="43.3" font-style="italic" font-weight="normal" fill="#ff0000"  >in a wide temperature range</text>
<text transform="translate(358.1,890.12) scale(1.2715,1)" font-family='"DejaVu Serif", serif' font-size="27.53" font-style="italic" font-weight="normal" fill="#000" >f</text>
<text transform="translate(378.05,889.81) scale(1.0614,1)" font-family='"Liberation Sans", sans-serif' font-size="28.98" font-style="normal" font-weight="normal" fill="#000" >(Hz)</text>
<text transform="translate(43.75,607.33) rotate(-90) scale(0.9267,1)" font-family='"Liberation Sans", sans-serif' font-size="25.45" font-style="normal" font-weight="normal" fill="#000">ε</text>
<text transform="translate(46.67,593.34) rotate(-90) scale(0.8991,1)" font-family='"Liberation Sans", sans-serif' font-size="37.21" font-style="normal" font-weight="normal" fill="#000">"</text>
<text transform="translate(755.85,604.23) rotate(-90) scale(0.9267,1)" font-family='"Liberation Sans", sans-serif' font-size="25.45" font-style="normal" font-weight="normal" fill="#000">ε</text>
<text transform="translate(757.87,590.36) rotate(-90) scale(1.1785,1)" font-family='"Liberation Sans", sans-serif' font-size="34.88" font-style="normal" font-weight="normal" fill="#000">'</text>
<filter id="bl" x="-5%" y="-5%" width="110%" height="110%"><feConvolveMatrix order="3" kernelMatrix="1 2 1 2 4 2 1 2 1" divisor="16" edgeMode="none" preserveAlpha="false"/></filter><g filter="url(#bl)">
<clipPath id="c2"><rect x="939.2" y="344.4" width="514.2" height="443.0"/></clipPath>
<g clip-path="url(#c2)">
<polyline points="973.4,739.1 974.9,738.3 976.4,737.5 977.9,736.7 979.4,735.9 980.8,735.2 980.9,735.1 982.4,734.4 983.9,733.6 985.4,732.8 986.9,732.1 988.4,731.3 989.9,730.5 991.4,729.7 992.9,729.0 994.4,728.3 995.9,727.6 997.4,726.9 998.1,726.6 998.9,726.2 1000.4,725.5 1001.9,724.8 1003.4,724.1 1004.9,723.4 1005.5,723.1 1006.4,722.7 1007.9,722.2 1009.4,721.8 1010.9,721.4 1012.4,720.9 1013.9,720.3 1015.0,719.7 1015.4,719.5 1016.9,718.6 1018.4,717.7 1019.9,716.8 1021.4,715.9 1022.9,715.0 1024.4,714.0 1025.9,713.1 1027.4,712.1 1028.9,711.2 1030.4,710.2 1031.9,709.2 1033.4,708.3 1034.9,707.3 1036.4,706.3 1037.9,705.2 1039.4,704.2 1040.9,703.2 1042.4,702.2 1043.9,701.1 1045.4,700.0 1046.9,699.0 1048.4,697.9 1049.9,696.8 1051.4,695.7 1052.9,694.6 1054.4,693.5 1055.9,692.3 1057.4,691.2 1058.9,690.0 1060.4,688.9 1061.9,687.7 1063.4,686.5 1064.9,685.3 1066.4,684.1 1067.9,682.9 1069.4,681.7 1070.9,680.5 1072.4,679.2 1073.9,678.0 1075.4,676.7 1076.9,675.4 1078.4,674.1 1079.9,672.8 1081.4,671.5 1082.9,670.2 1084.4,668.8 1085.9,667.5 1087.4,666.1 1088.9,664.8 1090.4,663.4 1091.9,662.0 1093.4,660.6 1094.9,659.1 1096.4,657.7 1097.9,656.2 1099.4,654.8 1100.9,653.3 1102.4,651.8 1103.9,650.3 1105.4,648.8 1106.9,647.3 1108.4,645.7 1109.9,644.1 1111.4,642.6 1112.9,641.0 1114.4,639.4 1115.9,637.8 1117.4,636.1 1118.9,634.5 1120.4,632.8 1121.9,631.1 1123.4,629.4 1124.9,627.7 1126.4,626.0 1127.9,624.2 1129.4,622.5 1130.9,620.7 1132.4,618.9 1133.9,617.1 1135.4,615.2 1136.9,613.4 1138.4,611.5 1139.9,609.6 1141.4,607.7 1142.9,605.8 1144.4,603.8 1145.9,601.9 1147.4,599.9 1148.9,597.9 1149.9,596.5 1150.4,595.8 1151.9,593.8 1153.4,591.7 1154.9,589.6 1156.4,587.5 1157.9,585.3 1159.4,583.2 1160.9,581.0 1162.1,579.2 1162.4,578.8 1163.9,576.5 1165.4,574.3 1166.9,572.1 1168.4,569.8 1169.9,567.5 1171.4,565.1 1172.9,562.8 1174.4,560.3 1175.9,557.8 1177.4,555.2 1178.9,552.5 1180.4,549.8 1181.9,547.0 1183.4,544.3 1184.9,541.5 1186.4,538.7 1187.2,537.2 1187.9,535.9 1189.4,533.2 1190.9,530.5 1192.4,527.8 1193.9,525.1 1195.4,522.4 1196.9,519.6 1198.4,516.7 1199.9,513.7 1201.0,511.4 1201.4,510.6 1202.9,507.3 1204.4,504.1 1205.9,500.7 1207.4,497.4 1208.9,493.9 1210.4,490.4 1211.9,486.9 1213.4,483.3 1214.8,479.9 1214.9,479.7 1216.4,476.0 1217.9,472.2 1219.4,468.4 1220.9,464.5 1222.4,460.6 1223.9,456.6 1225.4,452.5 1226.9,448.4 1228.4,444.2 1228.9,442.8" fill="none" stroke="#b0ffac" stroke-width="2.1" stroke-linejoin="round" />
<rect x="966.5" y="733.4" width="13.8" height="11.4" fill="#b0ffac"/>
<rect x="973.9" y="729.5" width="13.8" height="11.4" fill="#b0ffac"/>
<rect x="983.0" y="724.8" width="13.8" height="11.4" fill="#b0ffac"/>
<rect x="991.2" y="720.9" width="13.8" height="11.4" fill="#b0ffac"/>
<rect x="998.6" y="717.4" width="13.8" height="11.4" fill="#b0ffac"/>
<rect x="1008.1" y="714.0" width="13.8" height="11.4" fill="#b0ffac"/>
<rect x="1143.0" y="590.8" width="13.8" height="11.4" fill="#b0ffac"/>
<rect x="1155.2" y="573.5" width="13.8" height="11.4" fill="#b0ffac"/>
<rect x="1167.5" y="554.6" width="13.8" height="11.4" fill="#b0ffac"/>
<rect x="1180.3" y="531.5" width="13.8" height="11.4" fill="#b0ffac"/>
<rect x="1194.1" y="505.7" width="13.8" height="11.4" fill="#b0ffac"/>
<rect x="1207.9" y="474.2" width="13.8" height="11.4" fill="#b0ffac"/>
<rect x="1222.0" y="437.1" width="13.8" height="11.4" fill="#b0ffac"/>
<polyline points="973.7,752.4 975.2,751.6 976.7,750.9 978.2,750.1 979.7,749.4 981.2,748.7 982.7,748.0 984.2,747.4 985.7,746.7 987.2,746.1 988.7,745.4 989.7,745.0 990.2,744.8 991.7,744.1 993.2,743.4 994.7,742.8 996.2,742.1 997.0,741.7 997.7,741.4 999.2,740.6 1000.7,739.9 1002.2,739.1 1003.7,738.4 1005.2,737.6 1006.1,737.2 1006.7,736.9 1008.2,736.2 1009.7,735.5 1011.2,734.8 1012.7,734.1 1014.2,733.4 1015.7,732.7 1017.2,732.0 1018.7,731.2 1020.2,730.5 1021.7,729.8 1023.2,729.0 1024.7,728.3 1026.2,727.5 1027.7,726.8 1029.2,726.0 1030.7,725.2 1032.2,724.5 1033.7,723.7 1035.2,722.9 1036.7,722.1 1038.2,721.3 1039.7,720.5 1041.2,719.7 1042.7,718.9 1044.2,718.1 1045.7,717.3 1047.2,716.5 1048.7,715.7 1050.2,714.8 1051.7,714.0 1053.2,713.1 1054.7,712.3 1056.2,711.4 1057.7,710.6 1059.2,709.7 1060.7,708.8 1062.2,707.9 1063.7,707.0 1065.2,706.1 1066.7,705.2 1068.2,704.3 1069.7,703.4 1071.2,702.5 1072.7,701.6 1074.2,700.6 1075.7,699.7 1077.2,698.7 1078.7,697.8 1080.2,696.8 1081.7,695.9 1083.2,694.9 1084.7,693.9 1086.2,692.9 1087.7,691.9 1089.2,690.9 1090.7,689.9 1092.2,688.9 1093.7,687.8 1095.2,686.8 1096.7,685.7 1098.2,684.7 1099.7,683.6 1101.2,682.6 1102.7,681.5 1104.2,680.4 1105.7,679.3 1107.2,678.2 1108.7,677.1 1110.2,675.9 1111.7,674.8 1113.2,673.7 1114.7,672.5 1116.2,671.3 1117.7,670.2 1119.2,669.0 1120.7,667.8 1122.2,666.6 1123.7,665.4 1125.2,664.2 1126.7,662.9 1128.2,661.7 1129.7,660.4 1131.2,659.2 1132.7,657.9 1134.2,656.6 1135.7,655.3 1137.2,654.0 1138.7,652.7 1140.2,651.3 1141.7,650.0 1143.2,648.6 1144.7,647.3 1146.2,645.9 1147.7,644.5 1149.2,643.1 1150.7,641.7 1152.2,640.2 1153.7,638.8 1155.2,637.3 1156.7,635.8 1158.2,634.3 1159.7,632.8 1161.2,631.3 1162.7,629.8 1164.2,628.2 1165.7,626.7 1167.2,625.1 1168.7,623.5 1170.2,621.9 1171.7,620.3 1173.2,618.6 1174.7,617.0 1176.2,615.3 1177.7,613.6 1179.2,611.9 1180.7,610.2 1182.2,608.4 1183.7,606.7 1185.2,604.9 1186.7,603.1 1188.2,601.3 1189.7,599.5 1191.2,597.6 1192.7,595.7 1194.2,593.8 1195.7,591.9 1197.2,590.0 1198.7,588.0 1200.2,586.0 1201.7,584.0 1203.2,582.0 1204.7,580.0 1206.2,577.9 1207.7,575.8 1209.2,573.7 1210.7,571.6 1212.2,569.4 1213.7,567.2 1215.2,565.0 1215.6,564.4 1216.7,562.8 1218.2,560.6 1219.7,558.4 1221.2,556.3 1222.7,554.2 1224.2,552.0 1225.7,549.8 1227.2,547.6 1228.7,545.3 1230.2,542.9 1231.7,540.5 1233.2,538.0 1234.7,535.5 1236.2,533.0 1237.7,530.4 1239.2,527.7 1240.7,525.1 1242.2,522.4 1243.7,519.6 1244.7,517.7 1245.2,516.8 1246.7,513.9 1248.2,510.9 1249.7,507.9 1251.2,504.9 1252.7,501.8 1254.2,498.7 1255.7,495.6 1257.2,492.4 1258.7,489.2 1259.2,488.1 1260.2,485.9 1261.7,482.7 1263.2,479.4 1264.7,476.1 1266.2,472.8 1267.7,469.5 1269.2,466.0 1270.7,462.6 1272.2,459.0 1273.7,455.4 1275.2,451.7 1275.7,450.4 1276.7,447.8 1278.2,443.9 1279.7,439.8 1281.2,435.6 1282.7,431.3 1284.2,426.9 1285.7,422.3 1287.2,417.7 1288.7,412.9 1290.2,408.1 1291.3,404.5" fill="none" stroke="#4db8ff" stroke-width="2.3" stroke-linejoin="round" />
<path d="M965.5,752.4h16.4M973.7,745.2v14.4M973.0,748.7h16.4M981.2,741.5v14.4M981.5,745.0h16.4M989.7,737.8v14.4M988.8,741.7h16.4M997.0,734.5v14.4M997.9,737.2h16.4M1006.1,730.0v14.4M1207.4,564.4h16.4M1215.6,557.2v14.4M1222.0,542.9h16.4M1230.2,535.7v14.4M1236.5,517.7h16.4M1244.7,510.5v14.4M1251.0,488.1h16.4M1259.2,480.9v14.4M1267.5,450.4h16.4M1275.7,443.2v14.4M1283.1,404.5h16.4M1291.3,397.3v14.4" stroke="#4db8ff" stroke-width="2.6" fill="none"/>
<polyline points="1023.1,743.0 1024.6,742.6 1026.1,742.1 1027.6,741.6 1029.1,741.1 1030.6,740.6 1032.1,740.0 1033.5,739.5 1033.6,739.5 1035.1,738.8 1036.6,738.0 1038.1,737.2 1039.6,736.4 1041.1,735.6 1042.1,735.2 1042.6,735.0 1044.1,734.4 1045.6,733.8 1047.1,733.2 1048.6,732.6 1050.1,732.0 1051.6,731.4 1051.6,731.4 1053.1,730.7 1054.6,730.0 1056.1,729.2 1057.6,728.3 1059.1,727.6 1060.6,726.9 1061.2,726.6 1062.1,726.2 1063.6,725.7 1065.1,725.3 1066.6,724.8 1068.1,724.4 1069.6,723.9 1071.1,723.3 1071.6,723.1 1072.6,722.7 1074.1,721.9 1075.6,721.1 1077.1,720.3 1078.6,719.5 1080.1,718.8 1081.6,718.0 1081.9,717.9 1083.1,717.4 1084.6,716.7 1086.1,716.0 1087.6,715.3 1089.1,714.6 1090.6,713.9 1092.1,713.2 1093.2,712.7 1093.6,712.5 1095.1,711.8 1096.6,711.2 1098.1,710.6 1099.6,710.0 1101.1,709.4 1102.6,708.8 1103.6,708.4 1104.1,708.2 1105.6,707.6 1107.1,707.0 1108.6,706.4 1110.1,705.8 1111.6,705.1 1113.1,704.5 1114.6,703.8 1115.7,703.2 1116.1,703.0 1117.6,702.2 1119.1,701.3 1120.6,700.4 1122.1,699.5 1123.6,698.5 1125.1,697.7 1126.1,697.1 1126.6,696.8 1128.1,696.0 1129.6,695.2 1131.1,694.5 1132.6,693.7 1134.1,692.9 1135.6,692.1 1137.1,691.3 1138.6,690.5 1139.1,690.2 1140.1,689.6 1141.6,688.7 1143.1,687.8 1144.6,686.9 1146.1,686.0 1147.6,685.1 1149.1,684.1 1150.6,683.2 1152.1,682.2 1153.6,681.3 1155.1,680.3 1156.6,679.3 1158.1,678.3 1159.6,677.3 1161.1,676.3 1162.6,675.3 1164.1,674.2 1165.6,673.2 1167.1,672.1 1168.6,671.1 1170.1,670.0 1171.6,668.9 1173.1,667.8 1174.6,666.7 1176.1,665.6 1177.6,664.5 1179.1,663.3 1180.6,662.2 1182.1,661.0 1183.6,659.8 1185.1,658.7 1186.6,657.5 1188.1,656.3 1188.8,655.7 1189.6,655.0 1191.1,653.8 1192.6,652.4 1194.1,651.1 1195.6,649.7 1197.1,648.3 1198.6,646.9 1200.1,645.5 1201.3,644.5 1201.6,644.2 1203.1,643.0 1204.6,641.7 1206.1,640.3 1207.6,639.0 1209.1,637.7 1210.6,636.4 1212.1,635.1 1213.6,633.7 1215.1,632.4 1215.1,632.4 1216.6,631.1 1218.1,629.8 1219.6,628.4 1221.1,627.1 1222.6,625.8 1224.1,624.5 1225.6,623.2 1227.1,621.9 1228.6,620.5 1229.8,619.4 1230.1,619.1 1231.6,617.7 1233.1,616.4 1234.6,615.0 1236.1,613.6 1237.6,612.1 1239.1,610.7 1240.6,609.2 1242.1,607.7 1243.6,606.2 1244.5,605.2 1245.1,604.6 1246.6,602.9 1248.1,601.3 1249.6,599.6 1251.1,597.9 1252.6,596.2 1254.1,594.5 1255.6,592.7 1257.1,591.0 1258.6,589.2 1260.1,587.4 1260.1,587.4 1261.6,585.6 1263.1,583.7 1264.6,581.8 1266.1,579.9 1267.6,577.9 1269.1,576.0 1270.6,574.0 1272.1,572.0 1273.6,570.0 1274.8,568.4 1275.1,568.0 1276.6,566.0 1278.1,564.1 1279.6,562.2 1281.1,560.4 1282.6,558.5 1284.1,556.6 1285.6,554.7 1287.1,552.8 1288.6,550.8 1290.1,548.8 1291.6,546.6 1292.1,545.9 1293.1,544.4 1294.6,542.2 1296.1,539.9 1297.6,537.6 1299.1,535.2 1300.6,532.8 1302.1,530.4 1303.6,528.0 1305.1,525.5 1306.6,523.0 1308.1,520.4 1308.6,519.6 1309.6,517.9 1311.1,515.3 1312.6,512.8 1314.1,510.2 1315.6,507.5 1317.1,504.8 1318.6,502.1 1320.1,499.4 1321.6,496.6 1323.1,493.7 1324.6,490.7 1325.9,488.1 1326.1,487.7 1327.6,484.6 1329.1,481.4 1330.6,478.2 1332.1,474.9 1333.6,471.6 1335.1,468.2 1336.6,464.7 1338.1,461.2 1339.6,457.6 1341.1,454.0 1342.6,450.2 1342.7,450.0 1344.1,446.5 1345.6,442.6 1347.1,438.6 1348.6,434.5 1350.1,430.3 1351.6,425.9 1353.1,421.5 1354.6,417.0 1356.1,412.4 1357.6,407.8 1359.1,403.0 1360.6,398.1 1361.4,395.5" fill="none" stroke="#ff80c8" stroke-width="2.4" stroke-linejoin="round" />
<polygon points="1023.1,733.4 1013.9,748.0 1032.3,748.0" fill="#ff80c8"/>
<polygon points="1033.5,729.9 1024.3,744.5 1042.7,744.5" fill="#ff80c8"/>
<polygon points="1042.1,725.6 1032.9,740.2 1051.3,740.2" fill="#ff80c8"/>
<polygon points="1051.6,721.8 1042.4,736.4 1060.8,736.4" fill="#ff80c8"/>
<polygon points="1061.2,717.0 1052.0,731.6 1070.4,731.6" fill="#ff80c8"/>
<polygon points="1071.6,713.5 1062.4,728.1 1080.8,728.1" fill="#ff80c8"/>
<polygon points="1081.9,708.3 1072.7,722.9 1091.1,722.9" fill="#ff80c8"/>
<polygon points="1093.2,703.1 1084.0,717.7 1102.4,717.7" fill="#ff80c8"/>
<polygon points="1103.6,698.8 1094.4,713.4 1112.8,713.4" fill="#ff80c8"/>
<polygon points="1115.7,693.6 1106.5,708.2 1124.9,708.2" fill="#ff80c8"/>
<polygon points="1126.1,687.5 1116.9,702.1 1135.3,702.1" fill="#ff80c8"/>
<polygon points="1139.1,680.6 1129.9,695.2 1148.3,695.2" fill="#ff80c8"/>
<polygon points="1188.8,646.1 1178.6,660.7 1199.0,660.7" fill="#ff80c8"/>
<polygon points="1201.3,634.9 1191.1,649.5 1211.5,649.5" fill="#ff80c8"/>
<polygon points="1215.1,622.8 1204.9,637.4 1225.3,637.4" fill="#ff80c8"/>
<polygon points="1229.8,609.8 1219.6,624.4 1240.0,624.4" fill="#ff80c8"/>
<polygon points="1244.5,595.6 1234.3,610.2 1254.7,610.2" fill="#ff80c8"/>
<polygon points="1260.1,577.8 1249.9,592.4 1270.3,592.4" fill="#ff80c8"/>
<polygon points="1274.8,558.8 1264.6,573.4 1285.0,573.4" fill="#ff80c8"/>
<polygon points="1292.1,536.3 1281.9,550.9 1302.3,550.9" fill="#ff80c8"/>
<polygon points="1308.6,510.0 1298.4,524.6 1318.8,524.6" fill="#ff80c8"/>
<polygon points="1325.9,478.5 1315.7,493.1 1336.1,493.1" fill="#ff80c8"/>
<polygon points="1342.7,440.4 1332.5,455.0 1352.9,455.0" fill="#ff80c8"/>
<polygon points="1361.4,385.9 1351.2,400.5 1371.6,400.5" fill="#ff80c8"/>
<polyline points="1005.5,758.3 1007.0,757.1 1008.5,756.1 1010.0,755.3 1010.7,755.1 1011.5,754.9 1013.0,754.8 1014.5,754.7 1015.8,754.5 1016.0,754.4 1017.5,754.0 1019.0,753.6 1020.5,753.1 1021.0,753.0 1022.0,752.4 1023.5,751.1 1025.0,749.8 1026.1,749.2 1026.5,749.1 1028.0,748.9 1029.5,748.8 1031.0,748.6 1031.3,748.6 1032.5,747.9 1034.0,746.6 1035.5,745.4 1036.4,744.9 1037.0,744.8 1038.5,744.8 1040.0,744.8 1041.5,744.7 1041.6,744.6 1043.0,744.2 1044.5,743.6 1046.0,743.1 1046.7,742.8 1047.5,742.4 1049.0,741.3 1050.5,740.0 1051.9,739.2 1052.0,739.2 1053.5,738.9 1055.0,738.8 1056.5,738.6 1057.0,738.4 1058.0,738.0 1059.5,737.2 1061.0,736.4 1062.2,735.9 1062.5,735.8 1064.0,735.2 1065.5,734.7 1067.0,734.1 1068.5,733.6 1070.0,733.0 1071.5,732.4 1073.0,731.9 1074.5,731.3 1076.0,730.7 1077.5,730.1 1079.0,729.6 1080.5,729.0 1082.0,728.4 1083.5,727.8 1085.0,727.2 1086.5,726.6 1088.0,726.0 1089.5,725.4 1091.0,724.8 1092.5,724.2 1094.0,723.5 1095.5,722.9 1097.0,722.3 1098.5,721.7 1100.0,721.0 1101.5,720.4 1103.0,719.8 1104.5,719.1 1106.0,718.5 1107.5,717.8 1109.0,717.2 1110.5,716.5 1112.0,715.8 1113.5,715.2 1115.0,714.5 1116.5,713.8 1118.0,713.1 1119.5,712.4 1121.0,711.7 1122.5,711.0 1124.0,710.3 1125.5,709.6 1127.0,708.9 1128.5,708.2 1130.0,707.5 1131.5,706.8 1133.0,706.1 1134.5,705.3 1136.0,704.6 1137.5,703.8 1139.0,703.1 1140.5,702.3 1142.0,701.6 1143.5,700.8 1145.0,700.0 1146.5,699.3 1148.0,698.5 1149.5,697.7 1151.0,696.9 1152.5,696.1 1154.0,695.3 1155.5,694.5 1157.0,693.7 1158.5,692.9 1160.0,692.1 1161.5,691.2 1163.0,690.4 1164.5,689.6 1166.0,688.7 1167.5,687.9 1169.0,687.0 1170.5,686.1 1172.0,685.3 1173.5,684.4 1175.0,683.5 1176.5,682.6 1178.0,681.7 1179.5,680.8 1181.0,679.9 1182.5,679.0 1184.0,678.0 1185.5,677.1 1187.0,676.2 1188.5,675.2 1190.0,674.3 1191.5,673.3 1193.0,672.3 1194.5,671.4 1196.0,670.4 1197.5,669.4 1199.0,668.4 1200.5,667.4 1202.0,666.4 1203.5,665.3 1205.0,664.3 1206.5,663.3 1208.0,662.2 1209.5,661.2 1211.0,660.1 1212.5,659.0 1214.0,657.9 1215.5,656.8 1217.0,655.7 1218.5,654.6 1220.0,653.5 1221.5,652.4 1223.0,651.2 1224.5,650.1 1226.0,648.9 1227.5,647.8 1229.0,646.6 1230.5,645.4 1232.0,644.2 1233.5,643.0 1235.0,641.8 1236.5,640.6 1238.0,639.3 1239.5,638.1 1241.0,636.8 1242.5,635.5 1244.0,634.2 1245.5,632.9 1247.0,631.6 1248.5,630.3 1250.0,629.0 1251.5,627.6 1253.0,626.3 1254.5,624.9 1256.0,623.5 1257.5,622.1 1259.0,620.7 1260.5,619.3 1262.0,617.9 1263.5,616.4 1265.0,615.0 1266.5,613.5 1268.0,612.0 1269.5,610.5 1271.0,609.0 1272.5,607.4 1274.0,605.9 1275.5,604.3 1277.0,602.7 1278.5,601.1 1280.0,599.5 1281.5,597.9 1283.0,596.2 1284.5,594.6 1286.0,592.9 1287.5,591.2 1289.0,589.5 1290.5,587.8 1292.0,586.0 1293.5,584.2 1295.0,582.5 1296.5,580.6 1298.0,578.8 1299.5,577.0 1301.0,575.1 1302.5,573.2 1304.0,571.3 1305.5,569.4 1307.0,567.4 1308.5,565.5 1310.0,563.5 1311.5,561.5 1313.0,559.4 1314.5,557.4 1316.0,555.3 1317.5,553.2 1319.0,551.0 1320.5,548.9 1322.0,546.7 1323.5,544.5 1325.0,542.2 1326.5,540.0 1328.0,537.7 1329.5,535.4 1331.0,533.0 1332.5,530.7 1334.0,528.3 1335.5,525.8 1337.0,523.4 1338.5,520.9 1340.0,518.3 1341.5,515.8 1342.3,514.4 1343.0,513.2 1344.5,510.7 1346.0,508.2 1347.5,505.8 1349.0,503.4 1350.5,501.1 1352.0,498.7 1353.5,496.3 1355.0,493.8 1356.5,491.3 1358.0,488.7 1359.5,486.0 1361.0,483.2 1361.4,482.4 1362.5,480.2 1364.0,477.3 1365.5,474.2 1367.0,471.2 1368.5,468.0 1370.0,464.8 1371.5,461.6 1373.0,458.3 1374.5,454.9 1376.0,451.5 1377.5,448.0 1379.0,444.4 1380.4,441.0 1380.5,440.8 1382.0,437.0 1383.5,433.1 1385.0,429.1 1386.5,425.0 1388.0,420.7 1389.5,416.4 1391.0,411.9 1392.5,407.3 1394.0,402.6 1395.5,397.8 1397.0,392.9 1398.5,387.9 1400.0,382.8 1400.5,381.1" fill="none" stroke="#f8c090" stroke-width="2.3" stroke-linejoin="round" />
<ellipse cx="1005.5" cy="758.3" rx="6.9" ry="6.1" fill="#f8c090"/>
<ellipse cx="1010.7" cy="755.1" rx="6.9" ry="6.1" fill="#f8c090"/>
<ellipse cx="1015.8" cy="754.5" rx="6.9" ry="6.1" fill="#f8c090"/>
<ellipse cx="1021.0" cy="753.0" rx="6.9" ry="6.1" fill="#f8c090"/>
<ellipse cx="1026.1" cy="749.2" rx="6.9" ry="6.1" fill="#f8c090"/>
<ellipse cx="1031.3" cy="748.6" rx="6.9" ry="6.1" fill="#f8c090"/>
<ellipse cx="1036.4" cy="744.9" rx="6.9" ry="6.1" fill="#f8c090"/>
<ellipse cx="1041.6" cy="744.6" rx="6.9" ry="6.1" fill="#f8c090"/>
<ellipse cx="1046.7" cy="742.8" rx="6.9" ry="6.1" fill="#f8c090"/>
<ellipse cx="1051.9" cy="739.2" rx="6.9" ry="6.1" fill="#f8c090"/>
<ellipse cx="1057.0" cy="738.4" rx="6.9" ry="6.1" fill="#f8c090"/>
<ellipse cx="1062.2" cy="735.9" rx="6.9" ry="6.1" fill="#f8c090"/>
<ellipse cx="1342.3" cy="514.4" rx="7.7" ry="6.6" fill="#f8c090"/>
<ellipse cx="1361.4" cy="482.4" rx="7.7" ry="6.6" fill="#f8c090"/>
<ellipse cx="1380.4" cy="441.0" rx="7.7" ry="6.6" fill="#f8c090"/>
<ellipse cx="1400.5" cy="381.1" rx="7.7" ry="6.6" fill="#f8c090"/>
</g>
<rect x="939.2" y="344.4" width="514.2" height="443" fill="none" stroke="#000" stroke-width="3.1"/>
<path d="M939.20,748.57h10.5 M1453.40,748.57h-10.5 M939.20,709.24h10.5 M1453.40,709.24h-10.5 M939.20,669.91h10.5 M1453.40,669.91h-10.5 M939.20,630.58h10.5 M1453.40,630.58h-10.5 M939.20,591.25h10.5 M1453.40,591.25h-10.5 M939.20,551.92h10.5 M1453.40,551.92h-10.5 M939.20,512.59h10.5 M1453.40,512.59h-10.5 M939.20,473.26h10.5 M1453.40,473.26h-10.5 M939.20,433.93h10.5 M1453.40,433.93h-10.5 M939.20,394.60h10.5 M1453.40,394.60h-10.5 M939.20,355.27h10.5 M1453.40,355.27h-10.5 M1035.21,787.40v-8 M1131.72,787.40v-8 M1228.23,787.40v-8 M1324.74,787.40v-8 M1421.25,787.40v-8 M1335.46,344.40v9.5 M1182.27,344.40v9.5 M1067.38,344.40v9.5 M978.02,344.40v9.5" stroke="#000" stroke-width="2.6" fill="none"/>
<path d="M939.20,776.06h5.2 M1453.40,776.06h-5.2 M939.20,769.13h5.2 M1453.40,769.13h-5.2 M939.20,764.22h5.2 M1453.40,764.22h-5.2 M939.20,760.41h5.2 M1453.40,760.41h-5.2 M939.20,757.30h5.2 M1453.40,757.30h-5.2 M939.20,754.66h5.2 M1453.40,754.66h-5.2 M939.20,752.38h5.2 M1453.40,752.38h-5.2 M939.20,750.37h5.2 M1453.40,750.37h-5.2 M939.20,736.73h5.2 M1453.40,736.73h-5.2 M939.20,729.80h5.2 M1453.40,729.80h-5.2 M939.20,724.89h5.2 M1453.40,724.89h-5.2 M939.20,721.08h5.2 M1453.40,721.08h-5.2 M939.20,717.97h5.2 M1453.40,717.97h-5.2 M939.20,715.33h5.2 M1453.40,715.33h-5.2 M939.20,713.05h5.2 M1453.40,713.05h-5.2 M939.20,711.04h5.2 M1453.40,711.04h-5.2 M939.20,697.40h5.2 M1453.40,697.40h-5.2 M939.20,690.47h5.2 M1453.40,690.47h-5.2 M939.20,685.56h5.2 M1453.40,685.56h-5.2 M939.20,681.75h5.2 M1453.40,681.75h-5.2 M939.20,678.64h5.2 M1453.40,678.64h-5.2 M939.20,676.00h5.2 M1453.40,676.00h-5.2 M939.20,673.72h5.2 M1453.40,673.72h-5.2 M939.20,671.71h5.2 M1453.40,671.71h-5.2 M939.20,658.07h5.2 M1453.40,658.07h-5.2 M939.20,651.14h5.2 M1453.40,651.14h-5.2 M939.20,646.23h5.2 M1453.40,646.23h-5.2 M939.20,642.42h5.2 M1453.40,642.42h-5.2 M939.20,639.31h5.2 M1453.40,639.31h-5.2 M939.20,636.67h5.2 M1453.40,636.67h-5.2 M939.20,634.39h5.2 M1453.40,634.39h-5.2 M939.20,632.38h5.2 M1453.40,632.38h-5.2 M939.20,618.74h5.2 M1453.40,618.74h-5.2 M939.20,611.81h5.2 M1453.40,611.81h-5.2 M939.20,606.90h5.2 M1453.40,606.90h-5.2 M939.20,603.09h5.2 M1453.40,603.09h-5.2 M939.20,599.98h5.2 M1453.40,599.98h-5.2 M939.20,597.34h5.2 M1453.40,597.34h-5.2 M939.20,595.06h5.2 M1453.40,595.06h-5.2 M939.20,593.05h5.2 M1453.40,593.05h-5.2 M939.20,579.41h5.2 M1453.40,579.41h-5.2 M939.20,572.48h5.2 M1453.40,572.48h-5.2 M939.20,567.57h5.2 M1453.40,567.57h-5.2 M939.20,563.76h5.2 M1453.40,563.76h-5.2 M939.20,560.65h5.2 M1453.40,560.65h-5.2 M939.20,558.01h5.2 M1453.40,558.01h-5.2 M939.20,555.73h5.2 M1453.40,555.73h-5.2 M939.20,553.72h5.2 M1453.40,553.72h-5.2 M939.20,540.08h5.2 M1453.40,540.08h-5.2 M939.20,533.15h5.2 M1453.40,533.15h-5.2 M939.20,528.24h5.2 M1453.40,528.24h-5.2 M939.20,524.43h5.2 M1453.40,524.43h-5.2 M939.20,521.32h5.2 M1453.40,521.32h-5.2 M939.20,518.68h5.2 M1453.40,518.68h-5.2 M939.20,516.40h5.2 M1453.40,516.40h-5.2 M939.20,514.39h5.2 M1453.40,514.39h-5.2 M939.20,500.75h5.2 M1453.40,500.75h-5.2 M939.20,493.82h5.2 M1453.40,493.82h-5.2 M939.20,488.91h5.2 M1453.40,488.91h-5.2 M939.20,485.10h5.2 M1453.40,485.10h-5.2 M939.20,481.99h5.2 M1453.40,481.99h-5.2 M939.20,479.35h5.2 M1453.40,479.35h-5.2 M939.20,477.07h5.2 M1453.40,477.07h-5.2 M939.20,475.06h5.2 M1453.40,475.06h-5.2 M939.20,461.42h5.2 M1453.40,461.42h-5.2 M939.20,454.49h5.2 M1453.40,454.49h-5.2 M939.20,449.58h5.2 M1453.40,449.58h-5.2 M939.20,445.77h5.2 M1453.40,445.77h-5.2 M939.20,442.66h5.2 M1453.40,442.66h-5.2 M939.20,440.02h5.2 M1453.40,440.02h-5.2 M939.20,437.74h5.2 M1453.40,437.74h-5.2 M939.20,435.73h5.2 M1453.40,435.73h-5.2 M939.20,422.09h5.2 M1453.40,422.09h-5.2 M939.20,415.16h5.2 M1453.40,415.16h-5.2 M939.20,410.25h5.2 M1453.40,410.25h-5.2 M939.20,406.44h5.2 M1453.40,406.44h-5.2 M939.20,403.33h5.2 M1453.40,403.33h-5.2 M939.20,400.69h5.2 M1453.40,400.69h-5.2 M939.20,398.41h5.2 M1453.40,398.41h-5.2 M939.20,396.40h5.2 M1453.40,396.40h-5.2 M939.20,382.76h5.2 M1453.40,382.76h-5.2 M939.20,375.83h5.2 M1453.40,375.83h-5.2 M939.20,370.92h5.2 M1453.40,370.92h-5.2 M939.20,367.11h5.2 M1453.40,367.11h-5.2 M939.20,364.00h5.2 M1453.40,364.00h-5.2 M939.20,361.36h5.2 M1453.40,361.36h-5.2 M939.20,359.08h5.2 M1453.40,359.08h-5.2 M939.20,357.07h5.2 M1453.40,357.07h-5.2 M970.87,787.40v-4.6 M1003.04,787.40v-4.6 M1067.38,787.40v-4.6 M1099.55,787.40v-4.6 M1163.89,787.40v-4.6 M1196.06,787.40v-4.6 M1260.40,787.40v-4.6 M1292.57,787.40v-4.6 M1356.91,787.40v-4.6 M1389.08,787.40v-4.6 M1453.42,787.40v-4.6 M1412.06,344.40v5 M1372.44,344.40v5 M1300.87,344.40v5 M1268.44,344.40v5 M1237.98,344.40v5 M1209.31,344.40v5 M1156.74,344.40v5 M1132.59,344.40v5 M1109.71,344.40v5 M1088.00,344.40v5 M1047.76,344.40v5 M1029.08,344.40v5 M1011.27,344.40v5 M994.27,344.40v5 M962.48,344.40v5 M947.60,344.40v5" stroke="#000" stroke-width="2.5" fill="none"/>
<text transform="translate(915.95,388.77) scale(1.1579,1)" text-anchor="start" font-family='"Liberation Sans", sans-serif' font-size="20.02" font-style="normal" font-weight="normal" fill="#000"  >0</text>
<clipPath id="q11"><path clip-rule="evenodd" d="M-32.82,-49.23H69.32V32.82H-32.82ZM0.98,-3.12H8.22V0.98H0.98ZM11.21,-3.12H17.89V0.98H11.21Z"/></clipPath>
<text transform="translate(872.42,407.35) scale(1.1579,1)" text-anchor="start" font-family='"Liberation Sans", sans-serif' font-size="32.82" font-style="normal" font-weight="normal" fill="#000"  clip-path="url(#q11)">10</text>
<text transform="translate(908.53,467.43) scale(1.1579,1)" text-anchor="start" font-family='"Liberation Sans", sans-serif' font-size="20.02" font-style="normal" font-weight="normal" fill="#000"  >-2</text>
<clipPath id="q12"><path clip-rule="evenodd" d="M-32.82,-49.23H69.32V32.82H-32.82ZM0.98,-3.12H8.22V0.98H0.98ZM11.21,-3.12H17.89V0.98H11.21Z"/></clipPath>
<text transform="translate(865.12,486.01) scale(1.1579,1)" text-anchor="start" font-family='"Liberation Sans", sans-serif' font-size="32.82" font-style="normal" font-weight="normal" fill="#000"  clip-path="url(#q12)">10</text>
<text transform="translate(908.07,546.09) scale(1.1579,1)" text-anchor="start" font-family='"Liberation Sans", sans-serif' font-size="20.02" font-style="normal" font-weight="normal" fill="#000"  >-4</text>
<clipPath id="q13"><path clip-rule="evenodd" d="M-32.82,-49.23H69.32V32.82H-32.82ZM0.98,-3.12H8.22V0.98H0.98ZM11.21,-3.12H17.89V0.98H11.21Z"/></clipPath>
<text transform="translate(864.66,564.67) scale(1.1579,1)" text-anchor="start" font-family='"Liberation Sans", sans-serif' font-size="32.82" font-style="normal" font-weight="normal" fill="#000"  clip-path="url(#q13)">10</text>
<text transform="translate(908.3,624.75) scale(1.1579,1)" text-anchor="start" font-family='"Liberation Sans", sans-serif' font-size="20.02" font-style="normal" font-weight="normal" fill="#000"  >-6</text>
<clipPath id="q14"><path clip-rule="evenodd" d="M-32.82,-49.23H69.32V32.82H-32.82ZM0.98,-3.12H8.22V0.98H0.98ZM11.21,-3.12H17.89V0.98H11.21Z"/></clipPath>
<text transform="translate(864.89,643.33) scale(1.1579,1)" text-anchor="start" font-family='"Liberation Sans", sans-serif' font-size="32.82" font-style="normal" font-weight="normal" fill="#000"  clip-path="url(#q14)">10</text>
<text transform="translate(908.3,703.41) scale(1.1579,1)" text-anchor="start" font-family='"Liberation Sans", sans-serif' font-size="20.02" font-style="normal" font-weight="normal" fill="#000"  >-8</text>
<clipPath id="q15"><path clip-rule="evenodd" d="M-32.82,-49.23H69.32V32.82H-32.82ZM0.98,-3.12H8.22V0.98H0.98ZM11.21,-3.12H17.89V0.98H11.21Z"/></clipPath>
<text transform="translate(864.89,721.99) scale(1.1579,1)" text-anchor="start" font-family='"Liberation Sans", sans-serif' font-size="32.82" font-style="normal" font-weight="normal" fill="#000"  clip-path="url(#q15)">10</text>
<clipPath id="q16"><path clip-rule="evenodd" d="M-20.02,-30.03H48.95V20.02H-20.02ZM7.27,-1.9H11.68V0.6H7.27ZM13.5,-1.9H17.58V0.6H13.5Z"/></clipPath>
<text transform="translate(895.32,782.07) scale(1.1579,1)" text-anchor="start" font-family='"Liberation Sans", sans-serif' font-size="20.02" font-style="normal" font-weight="normal" fill="#000"  clip-path="url(#q16)">-10</text>
<clipPath id="q17"><path clip-rule="evenodd" d="M-32.82,-49.23H69.32V32.82H-32.82ZM0.98,-3.12H8.22V0.98H0.98ZM11.21,-3.12H17.89V0.98H11.21Z"/></clipPath>
<text transform="translate(851.91,800.65) scale(1.1579,1)" text-anchor="start" font-family='"Liberation Sans", sans-serif' font-size="32.82" font-style="normal" font-weight="normal" fill="#000"  clip-path="url(#q17)">10</text>
<clipPath id="q18"><path clip-rule="evenodd" d="M-55.45,-49.07H55.45V32.71H-55.45ZM5.53,-3.11H12.74V0.98H5.53ZM15.72,-3.11H22.37V0.98H15.72Z"/></clipPath>
<text transform="translate(937.5,824.5) scale(1.2110,1)" text-anchor="middle" font-family='"Liberation Sans", sans-serif' font-size="32.71" font-style="normal" font-weight="normal" fill="#000"  clip-path="url(#q18)">2.1</text>
<text transform="translate(1034.01,824.5) scale(1.2110,1)" text-anchor="middle" font-family='"Liberation Sans", sans-serif' font-size="32.71" font-style="normal" font-weight="normal" fill="#000"  >2.4</text>
<text transform="translate(1130.52,824.5) scale(1.2110,1)" text-anchor="middle" font-family='"Liberation Sans", sans-serif' font-size="32.71" font-style="normal" font-weight="normal" fill="#000"  >2.7</text>
<text transform="translate(1227.03,824.5) scale(1.2110,1)" text-anchor="middle" font-family='"Liberation Sans", sans-serif' font-size="32.71" font-style="normal" font-weight="normal" fill="#000"  >3.0</text>
<text transform="translate(1323.54,824.5) scale(1.2110,1)" text-anchor="middle" font-family='"Liberation Sans", sans-serif' font-size="32.71" font-style="normal" font-weight="normal" fill="#000"  >3.3</text>
<text transform="translate(1420.05,824.5) scale(1.2110,1)" text-anchor="middle" font-family='"Liberation Sans", sans-serif' font-size="32.71" font-style="normal" font-weight="normal" fill="#000"  >3.6</text>
<text transform="translate(1089.92,888.83) scale(1.1583,1)" font-family='"Liberation Serif", serif' font-size="37.33" font-style="normal" font-weight="normal" fill="#000" >1000/</text>
<text transform="translate(1188.35,888.7) scale(1.1162,1)" font-family='"Liberation Serif", serif' font-size="36.49" font-style="italic" font-weight="normal" fill="#000" >T</text>
<text transform="translate(1221.78,888.6) scale(1.1886,1)" font-family='"Liberation Serif", serif' font-size="37.69" font-style="normal" font-weight="normal" fill="#000" >(K</text>
<text transform="translate(1268.92,868) scale(1.1582,1)" font-family='"Liberation Serif", serif' font-size="21.82" font-style="normal" font-weight="normal" fill="#000" >-1</text>
<text transform="translate(1289.27,888.6) scale(1.1735,1)" font-family='"Liberation Serif", serif' font-size="37.69" font-style="normal" font-weight="normal" fill="#000" >)</text>
<text transform="translate(820.03,652.29) rotate(-90) scale(0.8919,1)" font-family='"Liberation Sans", sans-serif' font-size="36.67" font-style="normal" font-weight="normal" fill="#000">τ</text>
<text transform="translate(837.6,638.89) rotate(-90) scale(0.8186,1)" font-family='"Liberation Sans", sans-serif' font-size="27.39" font-style="normal" font-weight="normal" fill="#000">MAX</text>
<text transform="translate(820.16,577.57) rotate(-90) scale(0.8238,1)" font-family='"Liberation Sans", sans-serif' font-size="45.88" font-style="normal" font-weight="normal" fill="#000">(s)</text>
</g>
<text transform="translate(981.46,430.23) scale(0.9044,1)" font-family='"DejaVu Serif", serif' font-size="64.77" font-style="normal" font-weight="bold" fill="#FFC000" >α</text>
<path d="M1485.3,604.6 L1488,604.2 L1496,606.8 L1495.8,610 L1488.2,607.6 L1487.6,610.6 L1485.6,610.4 Z" fill="#111" filter="url(#bl)"/>
</svg></body></html>
